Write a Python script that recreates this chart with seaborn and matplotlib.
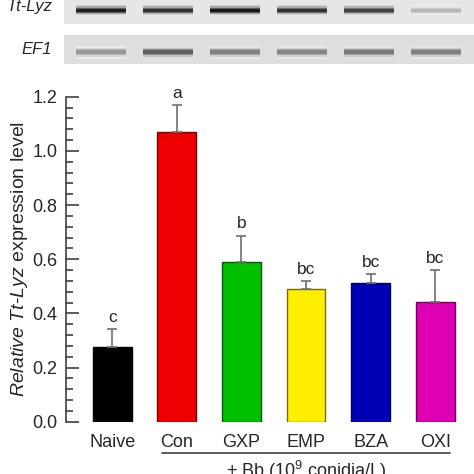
import numpy as np
import matplotlib
matplotlib.use("Agg")
import matplotlib.pyplot as plt
import matplotlib.transforms as mtransforms
from matplotlib.ticker import MultipleLocator, FormatStrFormatter
import seaborn as sns

# data
groups = ["Naive", "Con", "GXP", "EMP", "BZA", "OXI"]
expression = [0.277, 1.071, 0.591, 0.490, 0.511, 0.443]
errors = [0.064, 0.098, 0.096, 0.029, 0.034, 0.117]
letters = ["c", "a", "b", "bc", "bc", "bc"]
bar_colors = ["#000000", "#ee0000", "#00c000", "#ffee00", "#0000b4", "#e000b4"]
edge_colors = ["#000000", "#7a0000", "#005a00", "#7a6a00", "#00005a", "#70005a"]
lyz_band = [0.88, 0.80, 0.90, 0.80, 0.75, 0.28]
ef1_band = [0.40, 0.62, 0.50, 0.48, 0.52, 0.50]


def draw_gel(ax, intensities, center, thickness, bg):
    ax.set_facecolor(bg)
    lanes = np.arange(len(intensities))
    # a few soft layers so the band looks a bit blurry
    for scale, alpha in [(2.6, 0.2), (1.8, 0.4), (1.2, 0.7), (0.7, 1.0)]:
        h = thickness * scale
        shades = [str(1 - i * alpha) for i in intensities]
        ax.bar(lanes, h, bottom=center - h / 2, width=0.74, color=shades,
               linewidth=0)
    ax.set_xlim(-0.55, 5.57)
    ax.set_ylim(0, 1)
    ax.set_xticks([])
    ax.set_yticks([])
    for s in ax.spines.values():
        s.set_visible(False)


def main():
    sns.set_style("white")
    plt.rcParams["font.family"] = ["Liberation Sans", "DejaVu Sans"]
    plt.rcParams["mathtext.fontset"] = "custom"
    plt.rcParams["mathtext.rm"] = "Liberation Sans"
    plt.rcParams["mathtext.it"] = "Liberation Sans:italic"

    fig = plt.figure(figsize=(4.74, 4.74), dpi=100)

    # gel strips
    ax_lyz = fig.add_axes([64 / 474, 1 - 24 / 474, 1 - 64 / 474, 24 / 474])
    draw_gel(ax_lyz, lyz_band, 0.58, 0.17, "#e6e6e6")
    ax_ef1 = fig.add_axes([64 / 474, 1 - 64 / 474, 1 - 64 / 474, 29 / 474])
    draw_gel(ax_ef1, ef1_band, 0.41, 0.17, "#dedede")
    fig.text(52 / 474, 1 - 7 / 474, "Tt-Lyz", ha="right", va="center",
             style="italic", fontsize=12)
    fig.text(52 / 474, 1 - 50 / 474, "EF1", ha="right", va="center",
             style="italic", fontsize=12)

    # bar chart
    ax = fig.add_axes([66 / 474, 52.3 / 474, 1 - 66 / 474, 325 / 474])
    sns.barplot(x=groups, y=expression, hue=groups, palette=bar_colors,
                legend=False, width=0.6, ax=ax, saturation=1)
    for patch, ec in zip(ax.patches, edge_colors):
        patch.set_edgecolor(ec)
        patch.set_linewidth(1)

    x = np.arange(len(groups))
    ax.errorbar(x, expression, yerr=[np.zeros(len(errors)), errors],
                fmt="none", ecolor="#707070", elinewidth=1.2, capsize=3.3,
                capthick=1.2, zorder=1)
    for xi, v, e, lab in zip(x, expression, errors, letters):
        ax.annotate(lab, (xi, v + e), xytext=(0, 3), textcoords="offset points",
                    ha="center", va="bottom", fontsize=12.5)

    ax.set_xlim(-0.715, 5.6)
    ax.set_ylim(0, 1.2)
    ax.yaxis.set_major_locator(MultipleLocator(0.2))
    ax.yaxis.set_minor_locator(MultipleLocator(0.04))
    ax.yaxis.set_major_formatter(FormatStrFormatter("%.1f"))
    ax.tick_params(axis="y", which="both", left=True, direction="in",
                   color="#404040", width=1.2)
    ax.tick_params(axis="y", which="major", length=9.5, labelsize=13, pad=6)
    ax.tick_params(axis="y", which="minor", length=5)
    ax.tick_params(axis="x", length=0, labelsize=13, pad=9)
    for side in ["top", "right", "bottom"]:
        ax.spines[side].set_visible(False)
    ax.spines["left"].set_color("#404040")
    ax.spines["left"].set_linewidth(1.2)
    ax.set_xlabel("")
    ax.set_ylabel(r"$\mathit{Relative\ Tt}$-$\mathit{Lyz}$ expression level",
                  fontsize=14, labelpad=2)

    # bracket for the infected groups
    trans = mtransforms.blended_transform_factory(ax.transData, fig.transFigure)
    ax.plot([0.77, 5.23], [1 - 452.7 / 474] * 2, color="#404040", lw=1.2,
            transform=trans, clip_on=False)
    ax.text(3.0, 1 - 459 / 474, "+ Bb (10$^9$ conidia/L)", transform=trans,
            ha="center", va="top", fontsize=13)

    fig.savefig("out.png", dpi=100)


if __name__ == "__main__":
    main()
